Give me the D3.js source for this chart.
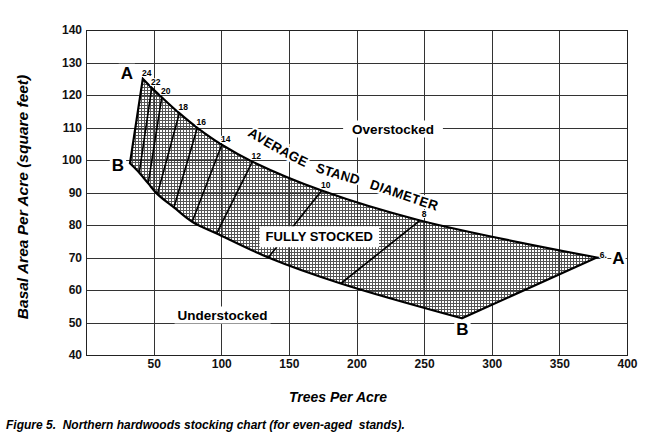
<!DOCTYPE html>
<html><head><meta charset="utf-8">
<script src="https://cdn.jsdelivr.net/npm/d3@7"></script>
<style>
html,body{margin:0;padding:0;background:#fff;}
svg{display:block;font-family:"Liberation Sans",Arial,Helvetica,sans-serif;}
</style></head><body>
<svg id="chart" width="664" height="437"></svg>
<script>
// ---- data ----
const diameters = ["24","22","20","18","16","14","12","10","8","6."];
const aLineTrees = [42, 48.6, 56, 69, 82.3, 100.4, 123, 174.3, 247, 377.7];
const aLineBA    = [125, 122.2, 119.3, 114.4, 109.9, 104.7, 99.5, 90.6, 81.4, 70];
const bLineTrees = [32.5, 39.4, 46, 52.8, 65, 78.5, 96.6, 134.8, 188.4, 277.9];
const bLineBA    = [99, 96.1, 92.8, 89.5, 85.4, 81, 77.4, 70, 62, 51.3];
const xTicks = [50,100,150,200,250,300,350,400];
const yTicks = [40,50,60,70,80,90,100,110,120,130,140];
const xDomain = [0,400];
const yDomain = [40,140];

// ---- layout ----
const svg = d3.select("#chart");
const L=86, R=627, T=30, B=355;
const x = d3.scaleLinear(xDomain,[L,R]);
const y = d3.scaleLinear(yDomain,[B,T]);

const aPts = aLineTrees.map((t,i)=>[x(t), y(aLineBA[i])]);
const bPts = bLineTrees.map((t,i)=>[x(t), y(bLineBA[i])]);

svg.append("rect").attr("width",664).attr("height",437).attr("fill","#fff");

// hatch pattern
const defs = svg.append("defs");
const pat = defs.append("pattern").attr("id","screen").attr("patternUnits","userSpaceOnUse")
  .attr("width",3).attr("height",3);
pat.append("rect").attr("width",3).attr("height",3).attr("fill","#fff");
pat.append("path").attr("d","M0 0.5H3M0.5 0V3").attr("stroke","#555").attr("stroke-width",1);

// shaded fully-stocked region
const lineCR = d3.line().curve(d3.curveCatmullRom.alpha(0.5));
const regionD = lineCR(aPts) + lineCR(bPts.slice().reverse()).replace(/^M/,"L") + "Z";
svg.append("path").attr("d",regionD).attr("fill","url(#screen)").attr("stroke","none");

// grid
const gx = svg.append("g").attr("transform",`translate(0,${B})`)
  .call(d3.axisBottom(x).tickValues(xTicks.filter(v=>v<xDomain[1])).tickSize(-(B-T)).tickFormat(""));
gx.select(".domain").remove();
gx.selectAll("line").attr("stroke","#333").attr("stroke-width",1).attr("shape-rendering","crispEdges");
const gy = svg.append("g").attr("transform",`translate(${L},0)`)
  .call(d3.axisLeft(y).tickValues(yTicks.filter(v=>v>yDomain[0] && v<yDomain[1])).tickSize(-(R-L)).tickFormat(""));
gy.select(".domain").remove();
gy.selectAll("line").attr("stroke","#333").attr("stroke-width",1).attr("shape-rendering","crispEdges");

// frame
svg.append("rect").attr("x",L).attr("y",T).attr("width",R-L).attr("height",B-T)
  .attr("fill","none").attr("stroke","#222").attr("stroke-width",1).attr("shape-rendering","crispEdges");

// axis labels
const ax = svg.append("g").attr("transform",`translate(0,${B})`)
  .call(d3.axisBottom(x).tickValues(xTicks).tickSize(0).tickPadding(4));
ax.select(".domain").remove();
ax.selectAll("text").attr("font-size",12).attr("font-weight","bold").attr("fill","#111")
  .attr("font-family",'"Liberation Sans",Arial,sans-serif');
const ay = svg.append("g").attr("transform",`translate(${L},0)`)
  .call(d3.axisLeft(y).tickValues(yTicks).tickSize(0).tickPadding(4));
ay.select(".domain").remove();
ay.selectAll("text").attr("font-size",12).attr("font-weight","bold").attr("fill","#111")
  .attr("font-family",'"Liberation Sans",Arial,sans-serif');

// diameter lines (interior)
for(let i=1;i<diameters.length-1;i++){
  svg.append("line").attr("x1",aPts[i][0]).attr("y1",aPts[i][1])
    .attr("x2",bPts[i][0]).attr("y2",bPts[i][1])
    .attr("stroke","#000").attr("stroke-width",1.6);
}
// outline
svg.append("path").attr("d",regionD).attr("fill","none").attr("stroke","#000")
  .attr("stroke-width",2.2).attr("stroke-linejoin","miter");

// ---- annotations ----
function boxedText(txt, px, py, size, opts={}){
  const g = svg.append("g");
  const r = g.append("rect").attr("fill","#fff");
  const t = g.append("text").attr("x",px).attr("y",py).attr("font-size",size)
    .attr("font-weight","bold").attr("text-anchor",opts.anchor||"middle").attr("fill","#000")
    .style("white-space","pre").text(txt);
  const bb = t.node().getBBox();
  const ph = opts.padX ?? 2, pv = opts.padY ?? 0;
  r.attr("x",bb.x-ph).attr("y",bb.y-pv).attr("width",bb.width+2*ph).attr("height",bb.height+2*pv);
  return t;
}

// diameter labels along the A-line
diameters.forEach((d,i)=>{
  const [px,py] = aPts[i];
  const last = i===diameters.length-1;
  svg.append("text")
    .attr("x", last ? px+3 : px+4)
    .attr("y", last ? py : py-3)
    .attr("text-anchor", last ? "start" : "middle")
    .attr("font-size",8.5).attr("font-weight","bold")
    .attr("stroke","#fff").attr("stroke-width",2).attr("paint-order","stroke")
    .attr("fill","#000").text(d);
});

// A / B line markers
boxedText("A", aPts[0][0]-16, aPts[0][1], 17);
boxedText("B", bPts[0][0]-12, bPts[0][1]+7.5, 17);
boxedText("A", aPts[aPts.length-1][0]+21.6, aPts[aPts.length-1][1]+6, 17, {padX:1});
boxedText("B", bPts[bPts.length-1][0]+0.6, bPts[bPts.length-1][1]+17, 17);

// region labels
boxedText("Overstocked", x(227), y(110)+6, 13.5, {padX:9, padY:1});
boxedText("Understocked", x(101), y(50)-3, 13.5, {padX:3, padY:1});
boxedText("FULLY STOCKED", x(172.5), y(75), 13, {padX:6, padY:3});

// curved label
const labelPathPts = [[119,107.6],[164,97.4],[204,92],[262,84],[310,79]];
defs.append("path").attr("id","diamPath")
  .attr("d", d3.line().curve(d3.curveNatural)(labelPathPts.map(p=>[x(p[0]),y(p[1])])));
svg.append("text").attr("font-size",13.5).attr("font-weight","bold").attr("fill","#000")
  .attr("stroke","#fff").attr("stroke-width",4).attr("paint-order","stroke")
  .style("white-space","pre")
  .append("textPath").attr("href","#diamPath").attr("startOffset",0)
  .text("AVERAGE   STAND   DIAMETER");

// axis titles
svg.append("text").attr("x",338).attr("y",402).attr("text-anchor","middle")
  .attr("font-size",14).attr("font-weight","bold").attr("font-style","italic").text("Trees Per Acre");
svg.append("text").attr("transform","translate(28,197) rotate(-90)").attr("text-anchor","middle")
  .attr("font-size",15.5).attr("font-weight","bold").attr("font-style","italic")
  .text("Basal Area Per Acre (square feet)");

// caption
svg.append("text").attr("x",6).attr("y",429).attr("font-size",12)
  .attr("font-weight","bold").attr("font-style","italic").style("white-space","pre")
  .text("Figure 5.  Northern hardwoods stocking chart (for even-aged  stands).");
</script>
</body></html>
